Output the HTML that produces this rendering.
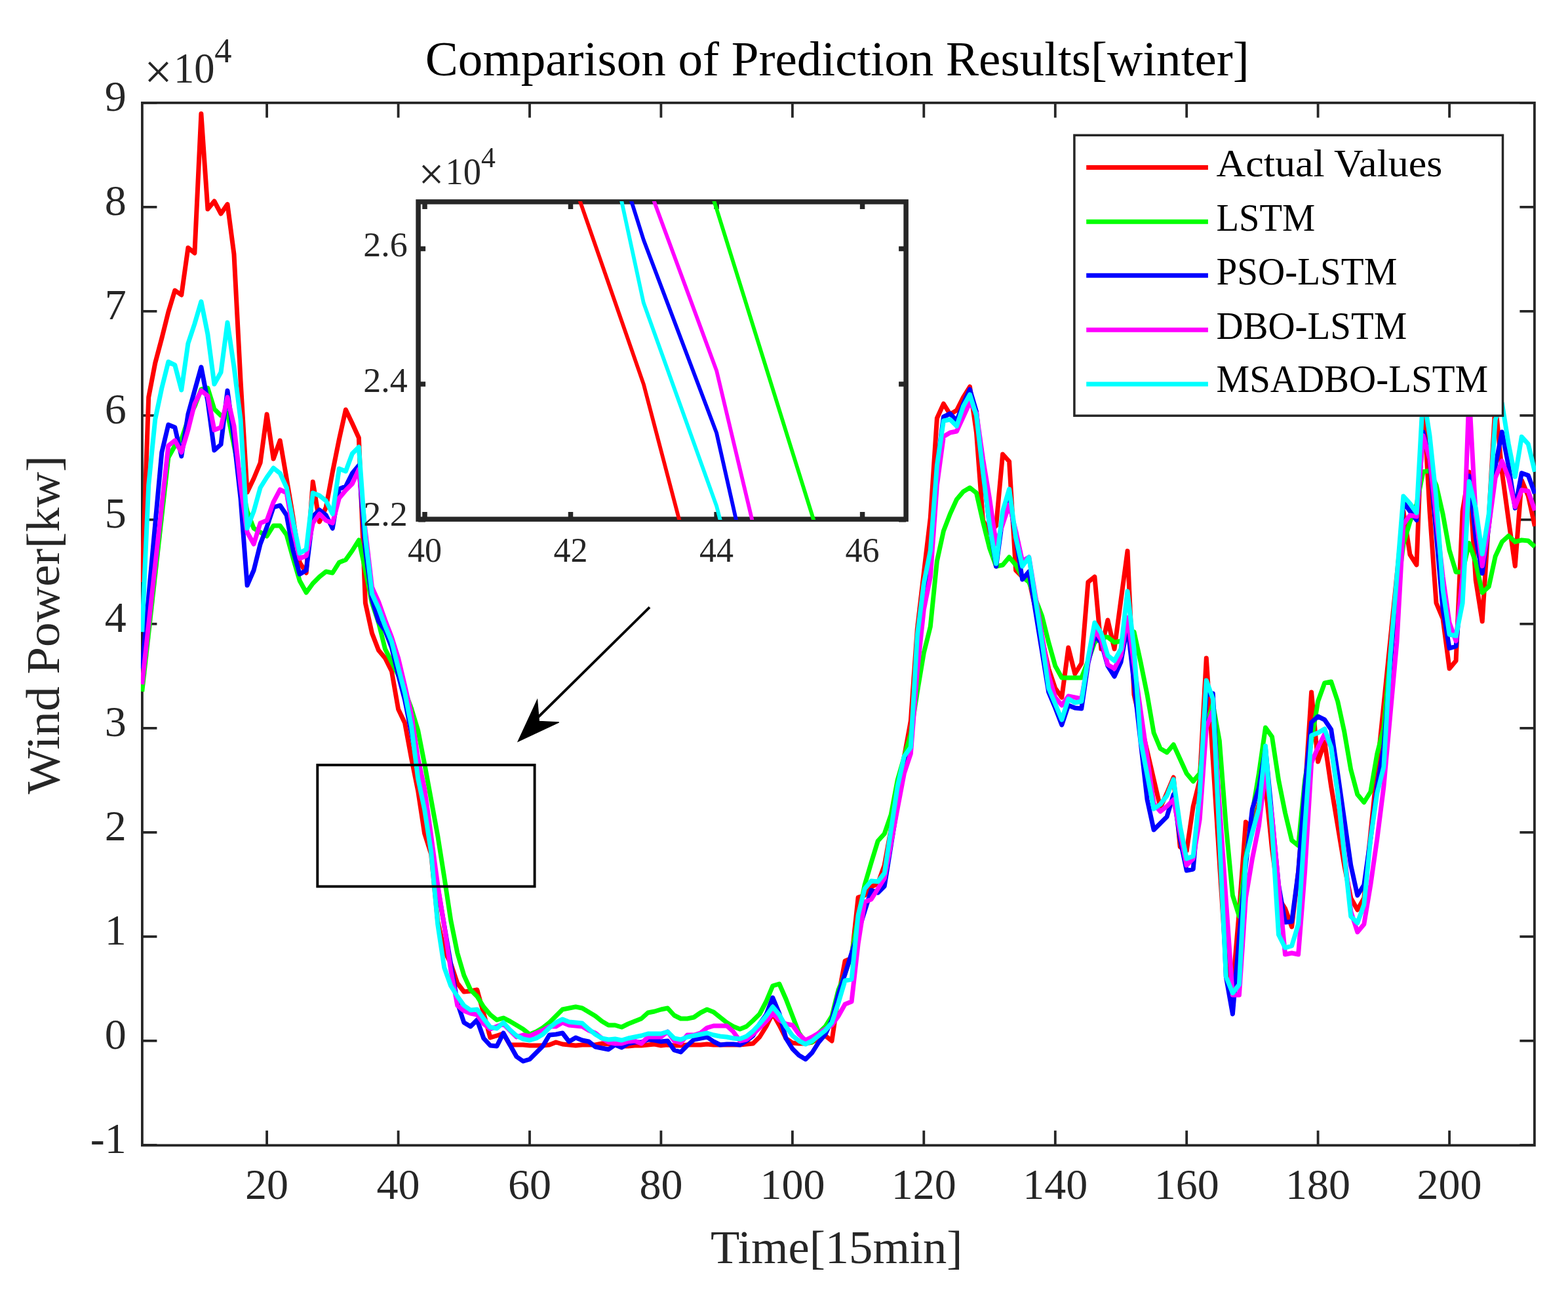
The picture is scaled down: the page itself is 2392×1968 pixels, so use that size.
<!DOCTYPE html><html><head><meta charset="utf-8"><title>Comparison of Prediction Results[winter]</title><style>html,body{margin:0;padding:0;background:#fff;overflow:hidden}svg{display:block}</style></head><body>
<svg width="2392" height="1968" viewBox="0 0 2392 1968">
<rect width="2392" height="1968" fill="#ffffff"/>
<defs><clipPath id="ca"><rect x="214.9" y="154.9" width="2128.0" height="1594.4"/></clipPath><clipPath id="ci"><rect x="637.1" y="306.9" width="746.0" height="486.2"/></clipPath></defs>
<rect x="216.9" y="156.9" width="2124.0" height="1590.4" fill="none" stroke="#262626" stroke-width="3.8"/>
<path fill="none" stroke="#262626" stroke-width="3.8" d="M407.1,1747.3v-22.5M407.1,156.9v22.5M607.6,1747.3v-22.5M607.6,156.9v22.5M808.0,1747.3v-22.5M808.0,156.9v22.5M1008.4,1747.3v-22.5M1008.4,156.9v22.5M1208.9,1747.3v-22.5M1208.9,156.9v22.5M1409.3,1747.3v-22.5M1409.3,156.9v22.5M1609.8,1747.3v-22.5M1609.8,156.9v22.5M1810.2,1747.3v-22.5M1810.2,156.9v22.5M2010.6,1747.3v-22.5M2010.6,156.9v22.5M2211.1,1747.3v-22.5M2211.1,156.9v22.5M216.9,1746.9h22.5M2340.9,1746.9h-22.5M216.9,1587.9h22.5M2340.9,1587.9h-22.5M216.9,1428.9h22.5M2340.9,1428.9h-22.5M216.9,1269.9h22.5M2340.9,1269.9h-22.5M216.9,1110.9h22.5M2340.9,1110.9h-22.5M216.9,951.9h22.5M2340.9,951.9h-22.5M216.9,792.9h22.5M2340.9,792.9h-22.5M216.9,633.9h22.5M2340.9,633.9h-22.5M216.9,474.9h22.5M2340.9,474.9h-22.5M216.9,315.9h22.5M2340.9,315.9h-22.5M216.9,156.9h22.5M2340.9,156.9h-22.5"/>
<g clip-path="url(#ca)" fill="none" stroke-width="7" stroke-linejoin="round">
<polyline stroke="#ff0000" points="216.7,888.0 226.7,606.0 236.7,554.0 246.8,516.0 256.8,476.0 266.8,443.0 276.8,450.0 286.9,378.0 296.9,386.0 306.9,173.4 316.9,319.0 326.9,307.0 337.0,326.0 347.0,311.6 357.0,388.0 367.0,580.0 377.1,751.0 387.1,730.0 397.1,706.0 407.1,632.0 417.1,700.0 427.2,672.0 437.2,730.0 447.2,790.0 457.2,858.0 467.2,874.0 477.3,735.0 487.3,796.0 497.3,774.0 507.3,720.0 517.4,670.0 527.4,625.0 537.4,646.0 547.4,668.0 557.4,920.0 567.5,966.0 577.5,992.0 587.5,1004.0 597.5,1024.0 607.6,1082.0 617.6,1103.0 627.6,1157.0 637.6,1206.3 647.6,1271.5 657.7,1303.0 667.7,1405.0 677.7,1450.0 687.7,1470.0 697.8,1500.0 707.8,1513.0 717.8,1512.0 727.8,1510.0 737.8,1546.0 747.9,1583.0 757.9,1580.0 767.9,1577.0 777.9,1594.0 788.0,1594.0 798.0,1594.0 808.0,1595.0 818.0,1595.0 828.0,1595.0 838.1,1594.0 848.1,1590.0 858.1,1593.0 868.1,1594.0 878.2,1595.0 888.2,1594.0 898.2,1594.0 908.2,1594.0 918.2,1592.0 928.3,1593.0 938.3,1594.0 948.3,1596.0 958.3,1596.0 968.3,1595.0 978.4,1595.0 988.4,1594.0 998.4,1593.0 1008.4,1595.0 1018.5,1594.0 1028.5,1595.0 1038.5,1595.0 1048.5,1594.0 1058.5,1594.0 1068.6,1594.0 1078.6,1593.0 1088.6,1594.0 1098.6,1594.0 1108.7,1594.0 1118.7,1594.0 1128.7,1594.0 1138.7,1593.0 1148.7,1592.0 1158.8,1582.0 1168.8,1566.0 1178.8,1546.0 1188.8,1564.0 1198.9,1584.0 1208.9,1591.0 1218.9,1592.0 1228.9,1592.0 1238.9,1590.0 1249.0,1584.0 1259.0,1580.0 1269.0,1588.0 1279.0,1520.0 1289.1,1466.0 1299.1,1462.0 1309.1,1369.0 1319.1,1366.0 1329.1,1353.0 1339.2,1348.0 1349.2,1320.0 1359.2,1265.0 1369.2,1210.0 1379.3,1155.0 1389.3,1100.0 1399.3,960.0 1409.3,874.0 1419.3,790.0 1429.4,638.0 1439.4,616.0 1449.4,632.0 1459.4,626.0 1469.5,606.0 1479.5,590.0 1489.5,660.0 1499.5,794.0 1509.5,812.0 1519.6,802.0 1529.6,693.0 1539.6,704.0 1549.6,870.0 1559.6,880.0 1569.7,884.0 1579.7,929.3 1589.7,974.7 1599.7,1020.0 1609.8,1050.0 1619.8,1064.0 1629.8,988.0 1639.8,1028.0 1649.8,1012.0 1659.9,888.0 1669.9,880.0 1679.9,990.0 1689.9,946.0 1700.0,990.0 1710.0,915.3 1720.0,840.6 1730.0,1060.0 1740.0,1103.0 1750.1,1146.0 1760.1,1189.0 1770.1,1232.0 1780.1,1210.0 1790.2,1186.0 1800.2,1292.0 1810.2,1298.0 1820.2,1230.0 1830.2,1190.0 1840.3,1004.0 1850.3,1159.3 1860.3,1314.7 1870.3,1470.0 1880.4,1507.0 1890.4,1390.0 1900.4,1254.0 1910.4,1267.0 1920.4,1226.0 1930.5,1198.0 1940.5,1295.0 1950.5,1370.0 1960.5,1386.0 1970.6,1414.0 1980.6,1330.0 1990.6,1210.0 2000.6,1056.0 2010.6,1162.0 2020.7,1132.0 2030.7,1200.0 2040.7,1260.0 2050.7,1320.0 2060.7,1370.0 2070.8,1388.0 2080.8,1370.0 2090.8,1271.7 2100.8,1173.3 2110.9,1075.0 2120.9,976.7 2130.9,878.3 2140.9,780.0 2150.9,846.0 2161.0,861.8 2171.0,600.0 2181.0,780.0 2191.0,920.0 2201.1,944.0 2211.1,1020.0 2221.1,1008.0 2231.1,780.0 2241.1,720.0 2251.2,885.0 2261.2,948.0 2271.2,790.0 2281.2,615.0 2291.3,720.0 2301.3,793.5 2311.3,863.6 2321.3,732.7 2331.3,756.7 2341.4,802.8"/>
<polyline stroke="#00ff00" points="216.7,1055.0 226.7,965.8 236.7,876.5 246.8,787.2 256.8,698.0 266.8,680.0 276.8,670.0 286.9,640.0 296.9,620.0 306.9,594.0 316.9,592.0 326.9,624.0 337.0,634.0 347.0,630.0 357.0,680.0 367.0,730.0 377.1,780.0 387.1,806.0 397.1,812.0 407.1,818.0 417.1,802.0 427.2,802.0 437.2,816.0 447.2,852.0 457.2,886.0 467.2,904.0 477.3,890.0 487.3,880.0 497.3,872.0 507.3,874.0 517.4,858.0 527.4,854.0 537.4,840.0 547.4,824.0 557.4,870.0 567.5,920.0 577.5,950.0 587.5,990.0 597.5,1010.0 607.6,1030.0 617.6,1054.0 627.6,1081.0 637.6,1114.0 647.6,1165.1 657.7,1220.0 667.7,1274.8 677.7,1338.0 687.7,1404.0 697.8,1454.0 707.8,1488.0 717.8,1510.0 727.8,1520.0 737.8,1536.0 747.9,1548.0 757.9,1556.0 767.9,1553.0 777.9,1558.0 788.0,1564.0 798.0,1570.0 808.0,1578.0 818.0,1574.0 828.0,1568.0 838.1,1560.0 848.1,1550.0 858.1,1540.0 868.1,1538.0 878.2,1536.0 888.2,1538.0 898.2,1544.0 908.2,1550.0 918.2,1558.0 928.3,1564.0 938.3,1564.0 948.3,1567.0 958.3,1562.0 968.3,1558.0 978.4,1554.0 988.4,1545.0 998.4,1543.0 1008.4,1540.0 1018.5,1538.0 1028.5,1549.0 1038.5,1554.0 1048.5,1554.0 1058.5,1552.0 1068.6,1545.0 1078.6,1540.0 1088.6,1544.0 1098.6,1552.0 1108.7,1560.0 1118.7,1566.0 1128.7,1570.0 1138.7,1566.0 1148.7,1557.0 1158.8,1547.0 1168.8,1528.0 1178.8,1504.0 1188.8,1501.0 1198.9,1524.0 1208.9,1550.0 1218.9,1576.0 1228.9,1590.0 1238.9,1590.0 1249.0,1576.0 1259.0,1566.0 1269.0,1550.0 1279.0,1510.0 1289.1,1486.0 1299.1,1456.0 1309.1,1400.0 1319.1,1350.0 1329.1,1316.0 1339.2,1283.0 1349.2,1272.0 1359.2,1243.0 1369.2,1190.0 1379.3,1155.0 1389.3,1120.0 1399.3,1056.0 1409.3,996.0 1419.3,956.0 1429.4,856.0 1439.4,810.0 1449.4,784.0 1459.4,762.0 1469.5,750.0 1479.5,744.0 1489.5,752.0 1499.5,796.0 1509.5,836.0 1519.6,864.0 1529.6,862.0 1539.6,850.0 1549.6,862.0 1559.6,880.0 1569.7,888.0 1579.7,914.0 1589.7,940.0 1599.7,980.0 1609.8,1016.0 1619.8,1034.0 1629.8,1034.0 1639.8,1034.0 1649.8,1034.0 1659.9,1008.0 1669.9,980.0 1679.9,972.0 1689.9,972.0 1700.0,980.0 1710.0,978.0 1720.0,960.0 1730.0,964.0 1740.0,1010.0 1750.1,1060.0 1760.1,1118.0 1770.1,1142.0 1780.1,1148.0 1790.2,1136.0 1800.2,1158.0 1810.2,1180.0 1820.2,1192.0 1830.2,1180.0 1840.3,1110.0 1850.3,1074.0 1860.3,1130.0 1870.3,1260.0 1880.4,1366.0 1890.4,1398.0 1900.4,1310.0 1910.4,1240.0 1920.4,1180.0 1930.5,1110.0 1940.5,1124.0 1950.5,1190.0 1960.5,1240.0 1970.6,1282.0 1980.6,1290.0 1990.6,1190.0 2000.6,1130.0 2010.6,1070.0 2020.7,1042.0 2030.7,1040.0 2040.7,1070.0 2050.7,1116.0 2060.7,1174.0 2070.8,1212.0 2080.8,1224.0 2090.8,1208.0 2100.8,1150.0 2110.9,1110.0 2120.9,1000.0 2130.9,910.0 2140.9,830.0 2150.9,796.0 2161.0,769.6 2171.0,719.8 2181.0,718.0 2191.0,740.1 2201.1,784.3 2211.1,839.6 2221.1,872.8 2231.1,872.8 2241.1,828.6 2251.2,858.1 2261.2,904.1 2271.2,894.9 2281.2,848.8 2291.3,826.7 2301.3,817.5 2311.3,826.7 2321.3,824.0 2331.3,824.9 2341.4,834.1"/>
<polyline stroke="#0000ff" points="216.7,1020.0 226.7,910.0 236.7,800.0 246.8,690.0 256.8,648.0 266.8,652.0 276.8,696.0 286.9,632.0 296.9,596.0 306.9,560.0 316.9,612.0 326.9,687.0 337.0,678.0 347.0,596.0 357.0,670.0 367.0,760.0 377.1,893.0 387.1,870.0 397.1,830.0 407.1,804.0 417.1,774.0 427.2,771.0 437.2,786.0 447.2,840.0 457.2,876.0 467.2,870.0 477.3,788.0 487.3,778.0 497.3,786.0 507.3,806.0 517.4,746.0 527.4,742.0 537.4,722.0 547.4,710.0 557.4,840.0 567.5,914.0 577.5,948.0 587.5,962.0 597.5,988.0 607.6,1030.0 617.6,1068.0 627.6,1118.0 637.6,1172.4 647.6,1217.7 657.7,1293.8 667.7,1352.8 677.7,1411.9 687.7,1470.9 697.8,1530.0 707.8,1560.0 717.8,1566.0 727.8,1556.0 737.8,1584.0 747.9,1595.0 757.9,1596.0 767.9,1576.0 777.9,1594.0 788.0,1612.0 798.0,1619.0 808.0,1616.0 818.0,1606.0 828.0,1596.0 838.1,1579.0 848.1,1578.0 858.1,1576.0 868.1,1589.0 878.2,1583.0 888.2,1587.0 898.2,1589.0 908.2,1597.0 918.2,1599.0 928.3,1601.0 938.3,1594.0 948.3,1598.0 958.3,1592.0 968.3,1590.0 978.4,1590.0 988.4,1586.0 998.4,1587.0 1008.4,1589.0 1018.5,1588.0 1028.5,1602.0 1038.5,1605.0 1048.5,1595.0 1058.5,1586.0 1068.6,1584.0 1078.6,1582.0 1088.6,1589.0 1098.6,1594.0 1108.7,1593.0 1118.7,1593.0 1128.7,1594.0 1138.7,1588.0 1148.7,1580.0 1158.8,1562.0 1168.8,1548.0 1178.8,1522.0 1188.8,1546.0 1198.9,1584.0 1208.9,1600.0 1218.9,1610.0 1228.9,1616.0 1238.9,1606.0 1249.0,1590.0 1259.0,1578.0 1269.0,1556.0 1279.0,1516.0 1289.1,1486.0 1299.1,1454.0 1309.1,1422.0 1319.1,1390.0 1329.1,1358.0 1339.2,1362.0 1349.2,1352.0 1359.2,1290.0 1369.2,1228.0 1379.3,1166.0 1389.3,1146.0 1399.3,990.0 1409.3,917.0 1419.3,844.0 1429.4,712.0 1439.4,636.0 1449.4,631.0 1459.4,642.0 1469.5,616.0 1479.5,594.0 1489.5,628.0 1499.5,720.0 1509.5,800.0 1519.6,864.0 1529.6,790.0 1539.6,760.0 1549.6,820.0 1559.6,884.0 1569.7,872.0 1579.7,933.3 1589.7,994.7 1599.7,1056.0 1609.8,1080.0 1619.8,1106.0 1629.8,1076.0 1639.8,1080.0 1649.8,1081.0 1659.9,1012.0 1669.9,970.0 1679.9,980.0 1689.9,1016.0 1700.0,1032.0 1710.0,1010.0 1720.0,954.0 1730.0,1042.7 1740.0,1131.3 1750.1,1220.0 1760.1,1266.0 1770.1,1256.0 1780.1,1246.0 1790.2,1212.0 1800.2,1280.0 1810.2,1328.0 1820.2,1326.0 1830.2,1210.0 1840.3,1060.0 1850.3,1058.0 1860.3,1250.0 1870.3,1490.0 1880.4,1547.0 1890.4,1430.0 1900.4,1320.0 1910.4,1234.0 1920.4,1202.0 1930.5,1142.0 1940.5,1246.0 1950.5,1350.0 1960.5,1407.0 1970.6,1406.0 1980.6,1330.0 1990.6,1200.0 2000.6,1102.0 2010.6,1093.0 2020.7,1098.0 2030.7,1113.0 2040.7,1180.0 2050.7,1250.0 2060.7,1320.0 2070.8,1366.0 2080.8,1350.0 2090.8,1280.0 2100.8,1200.0 2110.9,1140.0 2120.9,1015.3 2130.9,890.7 2140.9,766.0 2150.9,780.0 2161.0,793.5 2171.0,659.0 2181.0,700.0 2191.0,815.0 2201.1,930.0 2211.1,989.0 2221.1,986.0 2231.1,880.0 2241.1,726.0 2251.2,820.0 2261.2,874.7 2271.2,802.8 2281.2,710.6 2291.3,659.0 2301.3,710.6 2311.3,775.1 2321.3,721.7 2331.3,725.3 2341.4,753.0"/>
<polyline stroke="#ff00ff" points="216.7,1044.0 226.7,953.0 236.7,862.0 246.8,771.0 256.8,680.0 266.8,672.0 276.8,690.0 286.9,656.0 296.9,616.0 306.9,596.0 316.9,604.0 326.9,656.0 337.0,652.0 347.0,606.0 357.0,650.0 367.0,740.0 377.1,812.0 387.1,830.0 397.1,798.0 407.1,794.0 417.1,766.0 427.2,747.0 437.2,752.0 447.2,810.0 457.2,852.0 467.2,848.0 477.3,798.0 487.3,784.0 497.3,794.0 507.3,798.0 517.4,760.0 527.4,748.0 537.4,738.0 547.4,716.0 557.4,810.0 567.5,896.0 577.5,918.0 587.5,946.0 597.5,972.0 607.6,1004.0 617.6,1046.0 627.6,1090.0 637.6,1156.7 647.6,1203.1 657.7,1275.0 667.7,1350.0 677.7,1412.0 687.7,1480.0 697.8,1534.0 707.8,1542.0 717.8,1546.0 727.8,1548.0 737.8,1562.0 747.9,1570.0 757.9,1566.0 767.9,1562.0 777.9,1572.0 788.0,1582.0 798.0,1579.0 808.0,1581.0 818.0,1576.0 828.0,1572.0 838.1,1566.0 848.1,1566.0 858.1,1560.0 868.1,1564.0 878.2,1565.0 888.2,1566.0 898.2,1572.0 908.2,1576.0 918.2,1584.0 928.3,1590.0 938.3,1592.0 948.3,1592.0 958.3,1589.0 968.3,1588.0 978.4,1592.0 988.4,1582.0 998.4,1582.0 1008.4,1582.0 1018.5,1574.0 1028.5,1588.0 1038.5,1591.0 1048.5,1579.0 1058.5,1579.0 1068.6,1576.0 1078.6,1568.0 1088.6,1565.0 1098.6,1565.0 1108.7,1565.0 1118.7,1574.0 1128.7,1588.0 1138.7,1586.0 1148.7,1578.0 1158.8,1568.0 1168.8,1558.0 1178.8,1546.0 1188.8,1556.0 1198.9,1562.0 1208.9,1564.0 1218.9,1578.0 1228.9,1587.0 1238.9,1582.0 1249.0,1576.0 1259.0,1570.0 1269.0,1564.0 1279.0,1550.0 1289.1,1532.0 1299.1,1528.0 1309.1,1440.0 1319.1,1376.0 1329.1,1372.0 1339.2,1356.0 1349.2,1340.0 1359.2,1286.7 1369.2,1233.3 1379.3,1180.0 1389.3,1150.0 1399.3,1024.0 1409.3,930.0 1419.3,880.0 1429.4,740.0 1439.4,666.0 1449.4,660.0 1459.4,658.0 1469.5,636.0 1479.5,614.0 1489.5,630.0 1499.5,700.0 1509.5,760.0 1519.6,830.0 1529.6,800.0 1539.6,770.0 1549.6,810.0 1559.6,856.0 1569.7,850.0 1579.7,910.0 1589.7,970.0 1599.7,1030.0 1609.8,1064.0 1619.8,1076.0 1629.8,1062.0 1639.8,1064.0 1649.8,1066.0 1659.9,1008.0 1669.9,962.0 1679.9,976.0 1689.9,1014.0 1700.0,1020.0 1710.0,1000.0 1720.0,942.0 1730.0,1013.0 1740.0,1084.0 1750.1,1155.0 1760.1,1226.0 1770.1,1238.0 1780.1,1230.0 1790.2,1220.0 1800.2,1270.0 1810.2,1320.0 1820.2,1310.0 1830.2,1250.0 1840.3,1110.0 1850.3,1084.0 1860.3,1228.7 1870.3,1373.3 1880.4,1518.0 1890.4,1518.0 1900.4,1370.0 1910.4,1310.0 1920.4,1260.0 1930.5,1176.0 1940.5,1245.0 1950.5,1350.0 1960.5,1456.0 1970.6,1454.0 1980.6,1456.0 1990.6,1330.0 2000.6,1164.0 2010.6,1140.0 2020.7,1120.0 2030.7,1140.0 2040.7,1210.0 2050.7,1300.0 2060.7,1390.0 2070.8,1422.0 2080.8,1410.0 2090.8,1350.0 2100.8,1280.0 2110.9,1200.0 2120.9,1090.0 2130.9,980.0 2140.9,800.0 2150.9,786.0 2161.0,788.0 2171.0,664.5 2181.0,700.0 2191.0,790.0 2201.1,880.0 2211.1,950.0 2221.1,978.0 2231.1,880.0 2241.1,600.0 2251.2,784.3 2261.2,863.6 2271.2,802.8 2281.2,729.0 2291.3,703.2 2301.3,729.0 2311.3,773.3 2321.3,747.5 2331.3,749.3 2341.4,778.8"/>
<polyline stroke="#00ffff" points="216.7,964.0 226.7,740.0 236.7,640.0 246.8,592.0 256.8,552.0 266.8,557.0 276.8,595.0 286.9,524.0 296.9,494.0 306.9,460.0 316.9,510.0 326.9,586.0 337.0,568.0 347.0,492.0 357.0,560.0 367.0,640.0 377.1,806.0 387.1,780.0 397.1,744.0 407.1,728.0 417.1,714.0 427.2,722.0 437.2,744.0 447.2,796.0 457.2,844.0 467.2,838.0 477.3,752.0 487.3,756.0 497.3,764.0 507.3,784.0 517.4,715.0 527.4,719.0 537.4,692.0 547.4,682.0 557.4,820.0 567.5,906.0 577.5,928.0 587.5,955.0 597.5,979.0 607.6,1019.0 617.6,1057.0 627.6,1108.0 637.6,1187.2 647.6,1234.9 657.7,1300.0 667.7,1410.0 677.7,1476.0 687.7,1504.0 697.8,1520.0 707.8,1534.0 717.8,1541.0 727.8,1540.0 737.8,1554.0 747.9,1567.0 757.9,1569.0 767.9,1560.0 777.9,1571.0 788.0,1580.0 798.0,1585.0 808.0,1587.0 818.0,1584.0 828.0,1578.0 838.1,1568.0 848.1,1560.0 858.1,1555.0 868.1,1559.0 878.2,1560.0 888.2,1561.0 898.2,1570.0 908.2,1578.0 918.2,1584.0 928.3,1586.0 938.3,1585.0 948.3,1587.0 958.3,1584.0 968.3,1582.0 978.4,1580.0 988.4,1577.0 998.4,1577.0 1008.4,1577.0 1018.5,1574.0 1028.5,1584.0 1038.5,1586.0 1048.5,1582.0 1058.5,1580.0 1068.6,1578.0 1078.6,1576.0 1088.6,1579.0 1098.6,1581.0 1108.7,1582.0 1118.7,1584.0 1128.7,1585.0 1138.7,1581.0 1148.7,1573.0 1158.8,1562.0 1168.8,1550.0 1178.8,1536.0 1188.8,1548.0 1198.9,1566.0 1208.9,1580.0 1218.9,1588.0 1228.9,1593.0 1238.9,1588.0 1249.0,1580.0 1259.0,1572.0 1269.0,1560.0 1279.0,1530.0 1289.1,1496.0 1299.1,1494.0 1309.1,1396.0 1319.1,1356.0 1329.1,1344.0 1339.2,1345.0 1349.2,1332.0 1359.2,1266.0 1369.2,1200.0 1379.3,1154.0 1389.3,1140.0 1399.3,970.0 1409.3,890.0 1419.3,840.0 1429.4,710.0 1439.4,642.0 1449.4,640.0 1459.4,650.0 1469.5,620.0 1479.5,602.0 1489.5,634.0 1499.5,720.0 1509.5,800.0 1519.6,860.0 1529.6,780.0 1539.6,746.0 1549.6,820.0 1559.6,864.0 1569.7,850.0 1579.7,915.0 1589.7,980.0 1599.7,1050.0 1609.8,1074.0 1619.8,1098.0 1629.8,1066.0 1639.8,1072.0 1649.8,1070.0 1659.9,1004.0 1669.9,950.0 1679.9,966.0 1689.9,1000.0 1700.0,1008.0 1710.0,990.0 1720.0,902.0 1730.0,990.0 1740.0,1130.0 1750.1,1182.0 1760.1,1234.0 1770.1,1227.0 1780.1,1214.0 1790.2,1189.0 1800.2,1260.0 1810.2,1310.0 1820.2,1306.0 1830.2,1210.0 1840.3,1038.0 1850.3,1066.0 1860.3,1278.0 1870.3,1490.0 1880.4,1515.0 1890.4,1502.0 1900.4,1310.0 1910.4,1270.0 1920.4,1234.0 1930.5,1138.0 1940.5,1265.0 1950.5,1426.0 1960.5,1446.0 1970.6,1443.0 1980.6,1410.0 1990.6,1260.0 2000.6,1122.0 2010.6,1118.0 2020.7,1112.0 2030.7,1140.0 2040.7,1210.0 2050.7,1304.0 2060.7,1398.0 2070.8,1408.0 2080.8,1380.0 2090.8,1280.0 2100.8,1210.0 2110.9,1170.0 2120.9,1000.0 2130.9,880.0 2140.9,757.0 2150.9,768.0 2161.0,782.5 2171.0,600.0 2181.0,664.5 2191.0,760.0 2201.1,900.0 2211.1,968.0 2221.1,970.0 2231.1,920.0 2241.1,734.6 2251.2,775.1 2261.2,845.2 2271.2,784.3 2281.2,640.0 2291.3,615.0 2301.3,677.4 2311.3,727.2 2321.3,666.4 2331.3,677.4 2341.4,719.8"/>
</g>
<text x="407.1" y="1829.0" font-size="66" fill="#262626" text-anchor="middle" font-family="'Liberation Serif', serif">20</text>
<text x="607.6" y="1829.0" font-size="66" fill="#262626" text-anchor="middle" font-family="'Liberation Serif', serif">40</text>
<text x="808.0" y="1829.0" font-size="66" fill="#262626" text-anchor="middle" font-family="'Liberation Serif', serif">60</text>
<text x="1008.4" y="1829.0" font-size="66" fill="#262626" text-anchor="middle" font-family="'Liberation Serif', serif">80</text>
<text x="1208.9" y="1829.0" font-size="66" fill="#262626" text-anchor="middle" font-family="'Liberation Serif', serif">100</text>
<text x="1409.3" y="1829.0" font-size="66" fill="#262626" text-anchor="middle" font-family="'Liberation Serif', serif">120</text>
<text x="1609.8" y="1829.0" font-size="66" fill="#262626" text-anchor="middle" font-family="'Liberation Serif', serif">140</text>
<text x="1810.2" y="1829.0" font-size="66" fill="#262626" text-anchor="middle" font-family="'Liberation Serif', serif">160</text>
<text x="2010.6" y="1829.0" font-size="66" fill="#262626" text-anchor="middle" font-family="'Liberation Serif', serif">180</text>
<text x="2211.1" y="1829.0" font-size="66" fill="#262626" text-anchor="middle" font-family="'Liberation Serif', serif">200</text>
<text x="192.8" y="1759.3" font-size="66" fill="#262626" text-anchor="end" font-family="'Liberation Serif', serif">-1</text>
<text x="192.8" y="1600.3" font-size="66" fill="#262626" text-anchor="end" font-family="'Liberation Serif', serif">0</text>
<text x="192.8" y="1441.3" font-size="66" fill="#262626" text-anchor="end" font-family="'Liberation Serif', serif">1</text>
<text x="192.8" y="1282.3" font-size="66" fill="#262626" text-anchor="end" font-family="'Liberation Serif', serif">2</text>
<text x="192.8" y="1123.3" font-size="66" fill="#262626" text-anchor="end" font-family="'Liberation Serif', serif">3</text>
<text x="192.8" y="964.3" font-size="66" fill="#262626" text-anchor="end" font-family="'Liberation Serif', serif">4</text>
<text x="192.8" y="805.3" font-size="66" fill="#262626" text-anchor="end" font-family="'Liberation Serif', serif">5</text>
<text x="192.8" y="646.3" font-size="66" fill="#262626" text-anchor="end" font-family="'Liberation Serif', serif">6</text>
<text x="192.8" y="487.3" font-size="66" fill="#262626" text-anchor="end" font-family="'Liberation Serif', serif">7</text>
<text x="192.8" y="328.3" font-size="66" fill="#262626" text-anchor="end" font-family="'Liberation Serif', serif">8</text>
<text x="192.8" y="169.3" font-size="66" fill="#262626" text-anchor="end" font-family="'Liberation Serif', serif">9</text>
<text x="220.1" y="135.1" font-size="76" fill="#262626" text-anchor="start" font-family="'Liberation Serif', serif">×</text>
<text x="265.0" y="126.0" font-size="66" fill="#262626" text-anchor="start" textLength="62.5" lengthAdjust="spacingAndGlyphs" font-family="'Liberation Serif', serif">10</text>
<text x="327.3" y="95.4" font-size="52.4" fill="#262626" text-anchor="start" font-family="'Liberation Serif', serif">4</text>
<text x="1084.0" y="1926.8" font-size="71" fill="#262626" text-anchor="start" textLength="384.5" lengthAdjust="spacingAndGlyphs" font-family="'Liberation Serif', serif">Time[15min]</text>
<g transform="translate(90.0,1211.4) rotate(-90)"><text x="0.0" y="0.0" font-size="72" fill="#262626" text-anchor="start" textLength="516.5" lengthAdjust="spacingAndGlyphs" font-family="'Liberation Serif', serif">Wind Power[kw]</text></g>
<text x="648.8" y="114.9" font-size="73" fill="#000000" text-anchor="start" textLength="1257.0" lengthAdjust="spacingAndGlyphs" font-family="'Liberation Serif', serif">Comparison of Prediction Results[winter]</text>
<rect x="484.3" y="1167.1" width="331.3" height="185.3" fill="none" stroke="#000" stroke-width="3.9"/>
<line x1="991" y1="926.3" x2="815" y2="1100" stroke="#000" stroke-width="3.9"/>
<path d="M790.5,1130.9 L819.5,1068.1 L822.3,1100.5 L852.7,1101.9 Z" fill="#000" stroke="#000" stroke-width="1.5" stroke-linejoin="miter"/>
<rect x="1638.9" y="206.3" width="653.6" height="427.9" fill="#ffffff" stroke="#262626" stroke-width="3.5"/>
<line x1="1657.2" y1="255.4" x2="1842.9" y2="255.4" stroke="#ff0000" stroke-width="7"/>
<text x="1855.5" y="269.0" font-size="60" fill="#000000" text-anchor="start" textLength="344.9" lengthAdjust="spacingAndGlyphs" font-family="'Liberation Serif', serif">Actual Values</text>
<line x1="1657.2" y1="338.3" x2="1842.9" y2="338.3" stroke="#00ff00" stroke-width="7"/>
<text x="1855.5" y="351.9" font-size="60" fill="#000000" text-anchor="start" textLength="150.8" lengthAdjust="spacingAndGlyphs" font-family="'Liberation Serif', serif">LSTM</text>
<line x1="1657.2" y1="420.2" x2="1842.9" y2="420.2" stroke="#0000ff" stroke-width="7"/>
<text x="1855.5" y="433.8" font-size="60" fill="#000000" text-anchor="start" textLength="275.9" lengthAdjust="spacingAndGlyphs" font-family="'Liberation Serif', serif">PSO-LSTM</text>
<line x1="1657.2" y1="503.2" x2="1842.9" y2="503.2" stroke="#ff00ff" stroke-width="7"/>
<text x="1855.5" y="516.8" font-size="60" fill="#000000" text-anchor="start" textLength="290.8" lengthAdjust="spacingAndGlyphs" font-family="'Liberation Serif', serif">DBO-LSTM</text>
<line x1="1657.2" y1="586.1" x2="1842.9" y2="586.1" stroke="#00ffff" stroke-width="7"/>
<text x="1855.5" y="598.0" font-size="60" fill="#000000" text-anchor="start" textLength="414.6" lengthAdjust="spacingAndGlyphs" font-family="'Liberation Serif', serif">MSADBO-LSTM</text>
<rect x="638.1" y="307.9" width="744.0" height="484.2" fill="#ffffff"/>
<rect x="638.1" y="307.9" width="744.0" height="484.2" fill="none" stroke="#262626" stroke-width="7.5"/>
<path fill="none" stroke="#262626" stroke-width="7.5" d="M648.0,792.1v-11M648.0,307.9v11M870.5,792.1v-11M870.5,307.9v11M1093.1,792.1v-11M1093.1,307.9v11M1315.6,792.1v-11M1315.6,307.9v11M638.1,792.8h11M1382.1,792.8h-11M638.1,586.1h11M1382.1,586.1h-11M638.1,379.4h11M1382.1,379.4h-11"/>
<g clip-path="url(#ci)" fill="none" stroke-width="5.8" stroke-linejoin="round">
<polyline stroke="#ff0000" points="425.5,-728.9 536.7,-598.9 648.0,-221.9 759.3,-85.4 870.5,265.6 981.8,586.1 1093.1,1009.8 1204.3,1214.6 1315.6,1877.6 1426.9,2170.1 1538.2,2300.1"/>
<polyline stroke="#00ff00" points="425.5,-819.9 536.7,-689.9 648.0,-559.9 759.3,-403.9 870.5,-228.4 981.8,-13.9 1093.1,318.3 1204.3,675.1 1315.6,1031.3 1426.9,1442.1 1538.2,1871.1"/>
<polyline stroke="#0000ff" points="425.5,-1001.9 536.7,-832.9 648.0,-559.9 759.3,-312.9 870.5,12.1 981.8,366.0 1093.1,660.5 1204.3,1154.5 1315.6,1538.4 1426.9,1922.3 1538.2,2306.2"/>
<polyline stroke="#ff00ff" points="425.5,-1105.9 536.7,-936.9 648.0,-728.9 759.3,-455.9 870.5,-169.9 981.8,263.7 1093.1,565.4 1204.3,1032.6 1315.6,1520.1 1426.9,1923.1 1538.2,2365.1"/>
<polyline stroke="#00ffff" points="425.5,-1047.4 536.7,-891.4 648.0,-631.4 759.3,-384.4 870.5,-52.9 981.8,462.1 1093.1,772.1 1204.3,1195.1 1315.6,1910.1 1426.9,2339.1 1538.2,2521.1"/>
</g>
<text x="648.0" y="856.7" font-size="52" fill="#262626" text-anchor="middle" font-family="'Liberation Serif', serif">40</text>
<text x="870.5" y="856.7" font-size="52" fill="#262626" text-anchor="middle" font-family="'Liberation Serif', serif">42</text>
<text x="1093.1" y="856.7" font-size="52" fill="#262626" text-anchor="middle" font-family="'Liberation Serif', serif">44</text>
<text x="1315.6" y="856.7" font-size="52" fill="#262626" text-anchor="middle" font-family="'Liberation Serif', serif">46</text>
<text x="554.3" y="802.3" font-size="52" fill="#262626" text-anchor="start" textLength="67.5" lengthAdjust="spacingAndGlyphs" font-family="'Liberation Serif', serif">2.2</text>
<text x="554.3" y="597.8" font-size="52" fill="#262626" text-anchor="start" textLength="67.5" lengthAdjust="spacingAndGlyphs" font-family="'Liberation Serif', serif">2.4</text>
<text x="554.3" y="390.7" font-size="52" fill="#262626" text-anchor="start" textLength="67.5" lengthAdjust="spacingAndGlyphs" font-family="'Liberation Serif', serif">2.6</text>
<text x="638.6" y="289.4" font-size="69" fill="#262626" text-anchor="start" font-family="'Liberation Serif', serif">×</text>
<text x="679.5" y="280.6" font-size="57" fill="#262626" text-anchor="start" textLength="54.5" lengthAdjust="spacingAndGlyphs" font-family="'Liberation Serif', serif">10</text>
<text x="734.0" y="254.9" font-size="43.8" fill="#262626" text-anchor="start" font-family="'Liberation Serif', serif">4</text>
</svg>
</body></html>
